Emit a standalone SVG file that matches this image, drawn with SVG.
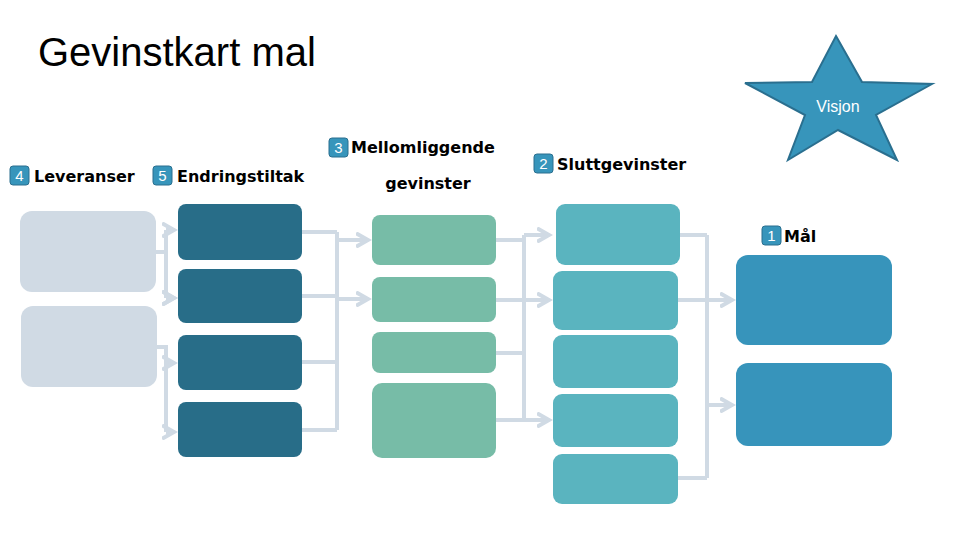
<svg xmlns="http://www.w3.org/2000/svg" width="960" height="540" viewBox="0 0 960 540">
<style>
.c{fill:none;stroke:#d0dae4;stroke-width:4}
.h{font-family:"DejaVu Sans",sans-serif;font-weight:bold;font-size:16px;fill:#000}
.b{fill:#3795bb;stroke:#2a6f8f;stroke-width:1}
.bn{font-family:"Liberation Sans",sans-serif;font-size:15px;fill:#fff;text-anchor:middle}
.l{fill:#d0dae4}.e{fill:#286d88}.m{fill:#77bca7}.s{fill:#5ab4bf}.g{fill:#3794bb}
</style>
<defs><marker id="a" markerWidth="4" markerHeight="4" refX="3" refY="2" orient="auto" markerUnits="strokeWidth"><path d="M0,0.3L3,2L0,3.7" fill="none" stroke="#d0dae4" stroke-width="1"/></marker></defs>
<rect width="960" height="540" fill="#fff"/>
<text x="38" y="66" font-family="Liberation Sans,sans-serif" font-size="40" fill="#000">Gevinstkart mal</text>
<g id="visjon"><polygon points="836,36 862,82 932,84 876,115 897,160 838,130 788,160 805,115 745,83 812,82" fill="#3795bb" stroke="#2a6f8f" stroke-width="2"/>
<text x="838" y="112" font-family="Liberation Sans,sans-serif" font-size="16" fill="#fff" text-anchor="middle">Visjon</text></g>
<g id="headers">
<rect class="b" x="10" y="166" width="19" height="19" rx="3"/><text class="bn" x="19.5" y="181">4</text><text class="h" x="34" y="182">Leveranser</text>
<rect class="b" x="153" y="166" width="19" height="19" rx="3"/><text class="bn" x="162.5" y="181">5</text><text class="h" x="177" y="182">Endringstiltak</text>
<rect class="b" x="329" y="138" width="19" height="19" rx="3"/><text class="bn" x="338.5" y="153">3</text><text class="h" x="351" y="153">Mellomliggende</text>
<text class="h" x="428" y="189" text-anchor="middle">gevinster</text>
<rect class="b" x="534" y="154" width="19" height="19" rx="3"/><text class="bn" x="543.5" y="169">2</text><text class="h" x="557" y="170">Sluttgevinster</text>
<rect class="b" x="762" y="226" width="19" height="19" rx="3"/><text class="bn" x="771.5" y="241">1</text><text class="h" x="784" y="242">Mål</text>
</g>
<g id="connectors">
<path class="c" d="M156,252H166M166,230V298M166,230H174M166,298H174" marker-end="url(#a)"/>
<path class="c" d="M166,230H174" marker-end="url(#a)"/><path class="c" d="M166,298H174" marker-end="url(#a)"/>
<path class="c" d="M157,347H166V432"/><path class="c" d="M166,363H174" marker-end="url(#a)"/><path class="c" d="M166,432H174" marker-end="url(#a)"/>
<path class="c" d="M302,232H337M302,296H337M302,362H337M302,430H337M337,232V430"/>
<path class="c" d="M337,240H368" marker-end="url(#a)"/><path class="c" d="M337,299H368" marker-end="url(#a)"/>
<path class="c" d="M496,240H524M496,300H524M496,353H524M496,420H524M524,235V420"/>
<path class="c" d="M524,235H549" marker-end="url(#a)"/><path class="c" d="M524,300H549" marker-end="url(#a)"/><path class="c" d="M524,420H549" marker-end="url(#a)"/>
<path class="c" d="M680,235H707M678,300H707M678,478H707M707,235V478"/>
<path class="c" d="M707,300H732" marker-end="url(#a)"/><path class="c" d="M707,405H732" marker-end="url(#a)"/>
</g>
<g id="lev1"><rect class="l" x="20" y="211" width="136" height="81" rx="12"/></g>
<g id="lev2"><rect class="l" x="21" y="306" width="136" height="81" rx="12"/></g>
<g id="end1"><rect class="e" x="178" y="204" width="124" height="56" rx="8"/></g>
<g id="end2"><rect class="e" x="178" y="269" width="124" height="54" rx="8"/></g>
<g id="end3"><rect class="e" x="178" y="335" width="124" height="55" rx="8"/></g>
<g id="end4"><rect class="e" x="178" y="402" width="124" height="55" rx="8"/></g>
<g id="mel1"><rect class="m" x="372" y="215" width="124" height="50" rx="8"/></g>
<g id="mel2"><rect class="m" x="372" y="277" width="124" height="45" rx="8"/></g>
<g id="mel3"><rect class="m" x="372" y="332" width="124" height="41" rx="8"/></g>
<g id="mel4"><rect class="m" x="372" y="383" width="124" height="75" rx="10"/></g>
<g id="slutt1"><rect class="s" x="556" y="204" width="124" height="61" rx="9"/></g>
<g id="slutt2"><rect class="s" x="553" y="271" width="125" height="59" rx="9"/></g>
<g id="slutt3"><rect class="s" x="553" y="335" width="125" height="53" rx="9"/></g>
<g id="slutt4"><rect class="s" x="553" y="394" width="125" height="53" rx="9"/></g>
<g id="slutt5"><rect class="s" x="553" y="454" width="125" height="50" rx="9"/></g>
<g id="mal1"><rect class="g" x="736" y="255" width="156" height="90" rx="12"/></g>
<g id="mal2"><rect class="g" x="736" y="363" width="156" height="83" rx="12"/></g>
</svg>
